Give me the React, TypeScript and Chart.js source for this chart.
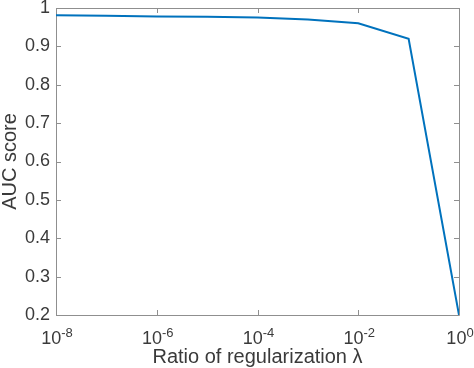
import React, { useEffect, useRef } from "react";
import { Chart, registerables } from "chart.js";

Chart.register(...registerables);

const lambdas = [1e-8, 1e-7, 1e-6, 1e-5, 1e-4, 1e-3, 1e-2, 1e-1, 1];
const aucScores = [0.981, 0.98, 0.978, 0.977, 0.975, 0.97, 0.96, 0.92, 0.2];
const xTickValues = [1e-8, 1e-6, 1e-4, 1e-2, 1];
const xTickExponents = ["-8", "-6", "-4", "-2", "0"];
const yTickValues = [0.2, 0.3, 0.4, 0.5, 0.6, 0.7, 0.8, 0.9, 1];

const AXIS_COLOR = "#8f8f8f";
const TEXT_COLOR = "#3a3a3a";
const FONT = "'Liberation Sans', Arial, Helvetica, sans-serif";

const boxPlugin = {
  id: "matlabBox",
  beforeDatasetsDraw(chart: any) {
    const { ctx, chartArea } = chart;
    const { left, right, top, bottom } = chartArea;
    const xs = chart.scales.x;
    const ys = chart.scales.y;
    const tl = 5;
    ctx.save();
    ctx.strokeStyle = AXIS_COLOR;
    ctx.lineWidth = 1;
    ctx.beginPath();
    ctx.rect(Math.round(left) + 0.5, Math.round(top) + 0.5, Math.round(right - left), Math.round(bottom - top));
    for (const v of xTickValues) {
      const px = Math.round(xs.getPixelForValue(v)) + 0.5;
      ctx.moveTo(px, bottom);
      ctx.lineTo(px, bottom - tl);
      ctx.moveTo(px, top);
      ctx.lineTo(px, top + tl);
    }
    for (const v of yTickValues) {
      const py = Math.round(ys.getPixelForValue(v)) + 0.5;
      ctx.moveTo(left, py);
      ctx.lineTo(left + tl, py);
      ctx.moveTo(right, py);
      ctx.lineTo(right - tl, py);
    }
    ctx.stroke();
    ctx.restore();
  },
  afterDraw(chart: any) {
    const { ctx, chartArea } = chart;
    const xs = chart.scales.x;
    const baseFont = `18px ${FONT}`;
    const expFont = `13px ${FONT}`;
    const baseY = chartArea.bottom + 28.5;
    ctx.save();
    ctx.fillStyle = TEXT_COLOR;
    ctx.textBaseline = "alphabetic";
    ctx.textAlign = "left";
    xTickValues.forEach((v, i) => {
      const px = xs.getPixelForValue(v);
      ctx.font = baseFont;
      const wb = ctx.measureText("10").width;
      ctx.font = expFont;
      const we = ctx.measureText(xTickExponents[i]).width;
      const x0 = px - (wb + we) / 2 + 1;
      ctx.font = baseFont;
      ctx.fillText("10", x0, baseY);
      ctx.font = expFont;
      ctx.fillText(xTickExponents[i], x0 + wb, baseY - 7);
    });
    ctx.restore();
  },
};

export default function App() {
  const ref = useRef<HTMLCanvasElement | null>(null);
  useEffect(() => {
    document.body.style.margin = "0";
    const canvas = ref.current!;
    const chart = new Chart(canvas, {
      type: "line",
      data: {
        datasets: [
          {
            data: lambdas.map((x, i) => ({ x, y: aucScores[i] })),
            borderColor: "#0072BD",
            borderWidth: 2,
            pointRadius: 0,
            fill: false,
            tension: 0,
          },
        ],
      },
      options: {
        animation: false,
        responsive: false,
        devicePixelRatio: 1,
        layout: { padding: { top: 8, right: 15, left: 0, bottom: 0 } },
        plugins: { legend: { display: false }, tooltip: { enabled: false } },
        scales: {
          x: {
            type: "logarithmic",
            min: 1e-8,
            max: 1,
            grid: { display: false, drawTicks: false },
            border: { display: false },
            afterBuildTicks: (scale: any) => {
              scale.ticks = xTickValues.map((v) => ({ value: v }));
            },
            afterFit: (scale: any) => {
              scale.height = 53;
              scale.paddingLeft = 0;
              scale.paddingRight = 0;
            },
            ticks: { display: false },
            title: {
              display: true,
              text: "Ratio of regularization \u03BB",
              color: TEXT_COLOR,
              font: { family: FONT, size: 20, lineHeight: 1 },
              padding: { top: 1, bottom: 1 },
            },
          },
          y: {
            min: 0.2,
            max: 1,
            grid: { display: false, drawTicks: false },
            border: { display: false },
            afterBuildTicks: (scale: any) => {
              scale.ticks = yTickValues.map((v) => ({ value: v }));
            },
            afterFit: (scale: any) => {
              scale.width = 56;
              scale.paddingTop = 0;
              scale.paddingBottom = 0;
            },
            ticks: {
              padding: 6,
              color: TEXT_COLOR,
              font: { family: FONT, size: 18 },
              callback: (v: any) => String(Math.round(Number(v) * 10) / 10),
            },
            title: {
              display: true,
              text: "AUC score",
              color: TEXT_COLOR,
              font: { family: FONT, size: 20, lineHeight: 1 },
              padding: { top: 0, bottom: 0 },
            },
          },
        },
      },
      plugins: [boxPlugin],
    } as any);
    return () => chart.destroy();
  }, []);
  return (
    <div style={{ width: 474, height: 368, background: "#fff" }}>
      <canvas ref={ref} width={474} height={368} style={{ display: "block" }} />
    </div>
  );
}
